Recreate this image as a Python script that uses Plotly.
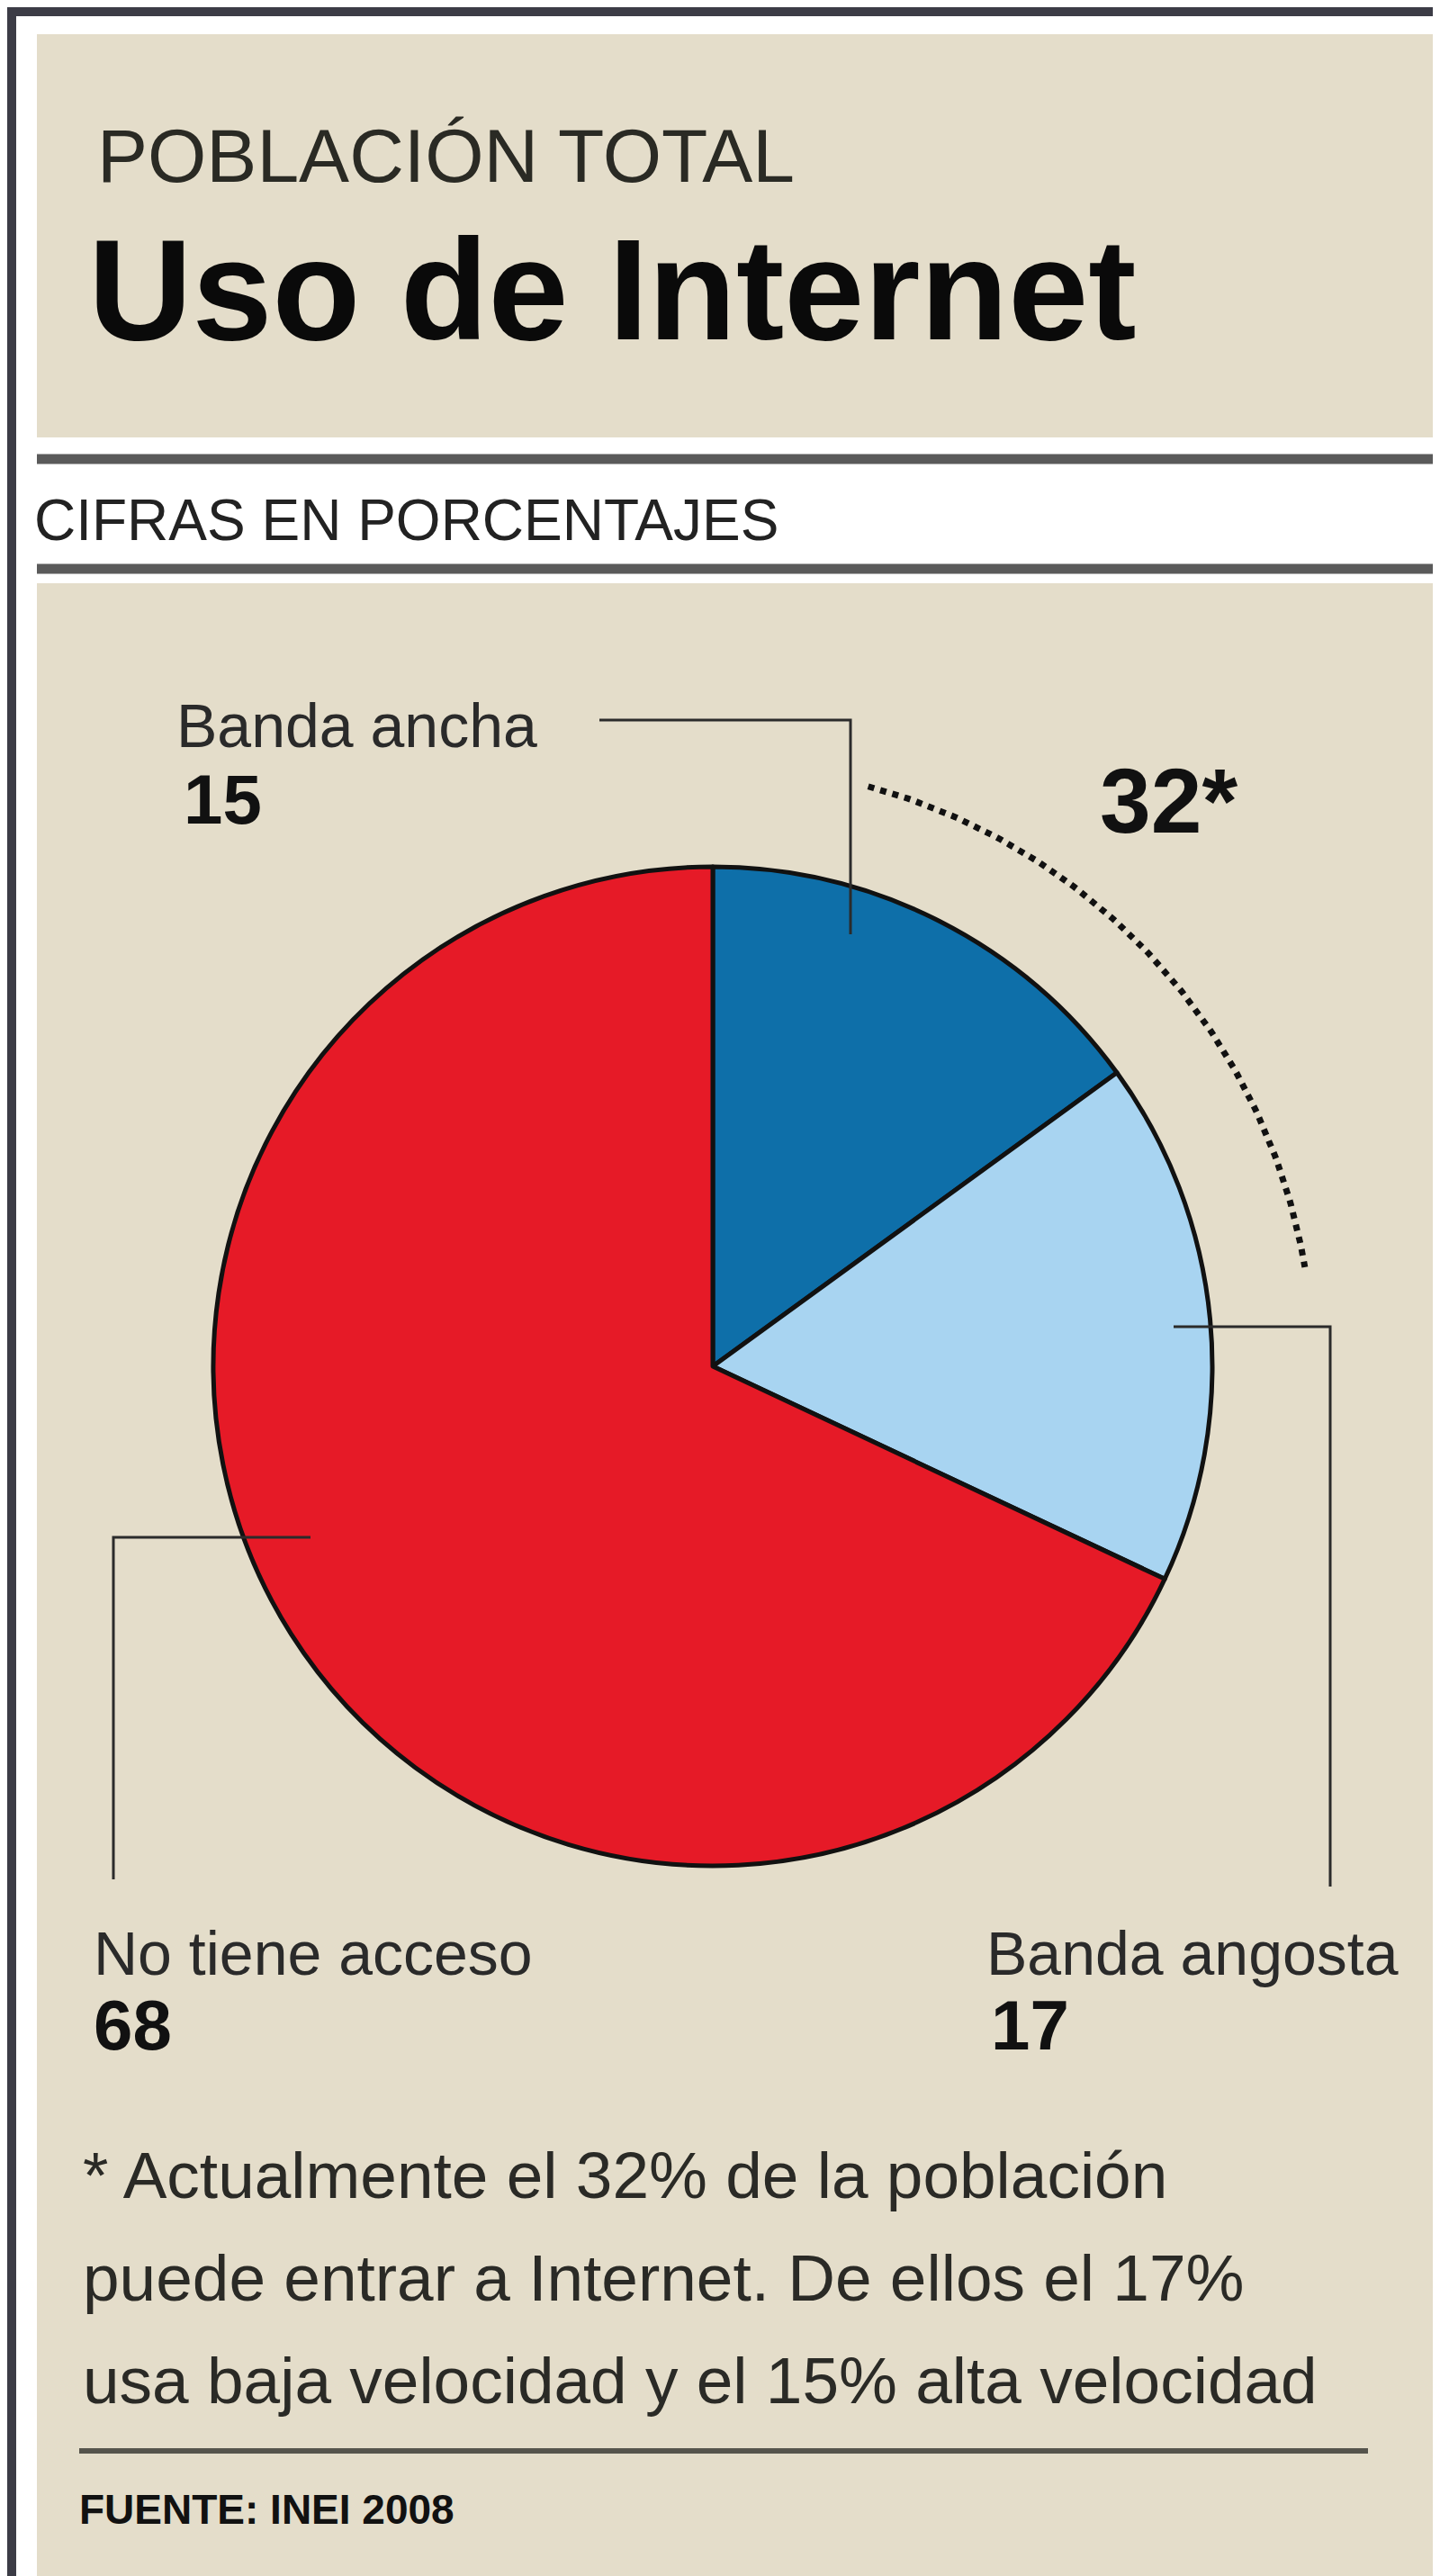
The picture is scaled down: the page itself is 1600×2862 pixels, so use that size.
import numpy as np
import plotly.graph_objects as go

# ---------------- data ----------------
kicker = "POBLACIÓN TOTAL"
title = "Uso de Internet"
units = "CIFRAS EN PORCENTAJES"
categories = ["Banda ancha", "Banda angosta", "No tiene acceso"]
values = [15, 17, 68]
slice_colors = ["#0e6fa9", "#a8d4f1", "#e61a27"]
total_access = 32
footnote_lines = [
    "* Actualmente el 32% de la población",
    "puede entrar a Internet. De ellos el 17%",
    "usa baja velocidad y el 15% alta velocidad",
]
source = "FUENTE: INEI 2008"

# ---------------- layout geometry (pixels) ----------------
W, H = 1600, 2862
BEIGE = "#e4ddca"
cx, cy, R = 784, 1510, 555

fig = go.Figure()

# Pie
fig.add_trace(go.Pie(
    labels=categories, values=values, sort=False, direction="clockwise",
    rotation=0, textinfo="none", hoverinfo="skip", showlegend=False,
    marker=dict(colors=slice_colors, line=dict(color="#111111", width=5)),
    domain=dict(x=[(cx - R) / W, (cx + R) / W],
                y=[(H - cy - R) / H, (H - cy + R) / H]),
))

# Dotted arc around the internet-access share
ang = np.radians(np.linspace(15, 80.5, 150))
ra = 667
fig.add_trace(go.Scatter(
    x=cx + ra * np.sin(ang), y=cy - ra * np.cos(ang), mode="lines",
    line=dict(color="#111111", width=7, dash="7px,7px"),
    hoverinfo="skip", showlegend=False,
))

shapes = []
# page background pieces
shapes.append(dict(type="rect", xref="x", yref="y", x0=0, x1=W, y0=0, y1=H,
                   fillcolor="white", line_width=0, layer="below"))
shapes.append(dict(type="rect", xref="x", yref="y", x0=0, x1=W, y0=0, y1=10,
                   fillcolor="#3c3c46", line_width=0, layer="below"))
shapes.append(dict(type="rect", xref="x", yref="y", x0=0, x1=10, y0=0, y1=H,
                   fillcolor="#3c3c46", line_width=0, layer="below"))
shapes.append(dict(type="rect", xref="x", yref="y", x0=33, x1=W, y0=30, y1=478,
                   fillcolor=BEIGE, line_width=0, layer="below"))
shapes.append(dict(type="rect", xref="x", yref="y", x0=33, x1=W, y0=640, y1=H,
                   fillcolor=BEIGE, line_width=0, layer="below"))
# rules around the units strip
for yy in (502, 624):
    shapes.append(dict(type="line", xref="x", yref="y", x0=33, x1=W, y0=yy, y1=yy,
                       line=dict(color="#5a5a5a", width=11), layer="below"))
# bottom rule
shapes.append(dict(type="line", xref="x", yref="y", x0=80, x1=1512, y0=2715, y1=2715,
                   line=dict(color="#55544c", width=6), layer="below"))

# leader lines
LC = "#2b2b2b"
leaders = [
    [(658, 792), (937, 792), (937, 1030)],
    [(1296, 1466), (1470, 1466), (1470, 2088)],
    [(337, 1700), (118, 1700), (118, 2080)],
]
for pts in leaders:
    path = "M " + " L ".join(f"{x},{y}" for x, y in pts)
    shapes.append(dict(type="path", xref="x", yref="y", path=path,
                       line=dict(color=LC, width=3), layer="above"))

annotations = []


def txt(x, y, s, size, bold=False, family="Liberation Sans, Arial, sans-serif",
        color="#1a1a1a", xanchor="left"):
    annotations.append(dict(
        x=x, y=y, xref="x", yref="y", text=f"<b>{s}</b>" if bold else s,
        showarrow=False, xanchor=xanchor, yanchor="middle",
        font=dict(size=size, family=family, color=color), align="left"))


txt(98, 165, kicker, 84, color="#2a2a24")
txt(88, 313, title, 160, bold=True, color="#0a0a0a")
txt(28, 570, units, 64, color="#222222")

# slice labels
lab_pos = [(186, 798, 194, 880), (1086, 2162, 1091, 2242), (94, 2162, 94, 2242)]
for (lx, ly, vx, vy), name, v in zip(lab_pos, categories, values):
    txt(lx, ly, name, 68, color="#2a2a2a")
    txt(vx, vy, str(v), 78, bold=True, color="#111111")
txt(1212, 882, f"{total_access}*", 102, bold=True, color="#111111")

# footnote
for i, line in enumerate(footnote_lines):
    txt(82, 2408 + i * 114, line, 73, color="#2a2a26")

txt(78, 2780, f"<b>{source}</b>", 46, color="#111111")

fig.update_layout(
    width=W, height=H, autosize=False,
    margin=dict(l=0, r=0, t=0, b=0, pad=0),
    paper_bgcolor="white", plot_bgcolor="rgba(0,0,0,0)",
    xaxis=dict(range=[0, W], visible=False, fixedrange=True, domain=[0, 1]),
    yaxis=dict(range=[H, 0], visible=False, fixedrange=True, domain=[0, 1]),
    shapes=shapes, annotations=annotations, showlegend=False,
)

fig.write_html("out.html")
